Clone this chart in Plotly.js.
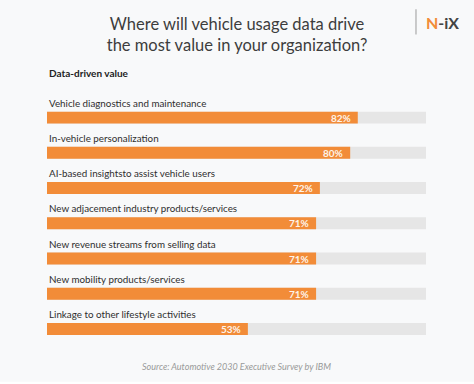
<!DOCTYPE html>
<html>
<head>
<meta charset="utf-8">
<script src="https://cdn.plot.ly/plotly-3.0.1.min.js"></script>
<style>html,body{margin:0;padding:0;background:#fff;}#chart{width:474px;height:384px;}</style>
</head>
<body>
<div id="chart"></div>
<script>
const categories = [
  "Vehicle diagnostics and maintenance",
  "In-vehicle personalization",
  "AI-based insightsto assist vehicle users",
  "New adjacement industry products/services",
  "New revenue streams from selling data",
  "New mobility products/services",
  "Linkage to other lifestyle activities"
];
const values = [82, 80, 72, 71, 71, 71, 53];
const trackValues = [100, 100, 100, 100, 100, 100, 100];
const valueLabels = values.map(v => v + "%");

const FONT = "Lato, 'Open Sans', sans-serif";
const ORANGE = "#f28c38";

const traces = [
  {type: "bar", orientation: "h", y: categories, x: trackValues,
   marker: {color: "#e6e6e6"}, width: 0.34, hoverinfo: "skip", showlegend: false},
  {type: "bar", orientation: "h", y: categories, x: values,
   marker: {color: ORANGE}, width: 0.34, hoverinfo: "skip", showlegend: false}
];

const annotations = [];
categories.forEach((c, i) => {
  annotations.push({xref: "x", yref: "y", x: 0, y: c, xanchor: "left", yanchor: "middle",
    yshift: 15, text: c, showarrow: false, font: {family: FONT, size: 9.8, color: "#2e2e2e"}});
  annotations.push({xref: "x", yref: "y", x: values[i], y: c, xanchor: "right", yanchor: "middle",
    xshift: -5, text: "<b>" + valueLabels[i] + "</b>", showarrow: false, font: {family: FONT, size: 10, color: "#fdf3ea"}});
});
annotations.push({xref: "paper", yref: "paper", x: 0, y: 1, yshift: 27, xanchor: "left", yanchor: "middle",
  text: "<b>Data-driven value</b>", showarrow: false, font: {family: FONT, size: 10, color: "#222"}});
annotations.push({xref: "paper", yref: "paper", x: 0.5, y: 0, yshift: -14, xanchor: "center", yanchor: "middle",
  text: "<i>Source: Automotive 2030 Executive Survey by IBM</i>", showarrow: false,
  font: {family: FONT, size: 9, color: "#999"}});
annotations.push({xref: "paper", yref: "paper", x: 1.0435, y: 1, yshift: 78, xanchor: "center", yanchor: "middle",
  text: "<b><span style='color:" + ORANGE + "'>N</span>-iX</b>", showarrow: false,
  font: {family: FONT, size: 16, color: "#444"}});

const layout = {
  width: 474, height: 384,
  margin: {l: 47, r: 48, t: 100, b: 32},
  paper_bgcolor: "#ffffff",
  plot_bgcolor: "rgba(0,0,0,0)",
  barmode: "overlay",
  title: {text: "Where will vehicle usage data drive<br>the most value in your organization?",
    x: 0.5, xanchor: "center", y: 0.922, yanchor: "middle",
    font: {family: FONT, size: 16.5, color: "#3d3d3d"}},
  xaxis: {range: [0, 100], visible: false, fixedrange: true},
  yaxis: {autorange: "reversed", visible: false, fixedrange: true},
  annotations: annotations,
  shapes: [
    {type: "rect", xref: "paper", yref: "paper", layer: "below",
     x0: -0.1240, x1: 1.127, y0: -0.1185, y1: 1.40, fillcolor: "#f8f9fa", line: {width: 0}},
    {type: "line", xref: "paper", yref: "paper", x0: 0.9736, x1: 0.9736, y0: 1.26, y1: 1.36,
     line: {color: "#9a9a9a", width: 1}}
  ]
};

Plotly.newPlot("chart", traces, layout, {displayModeBar: false, staticPlot: true});
</script>
</body>
</html>
